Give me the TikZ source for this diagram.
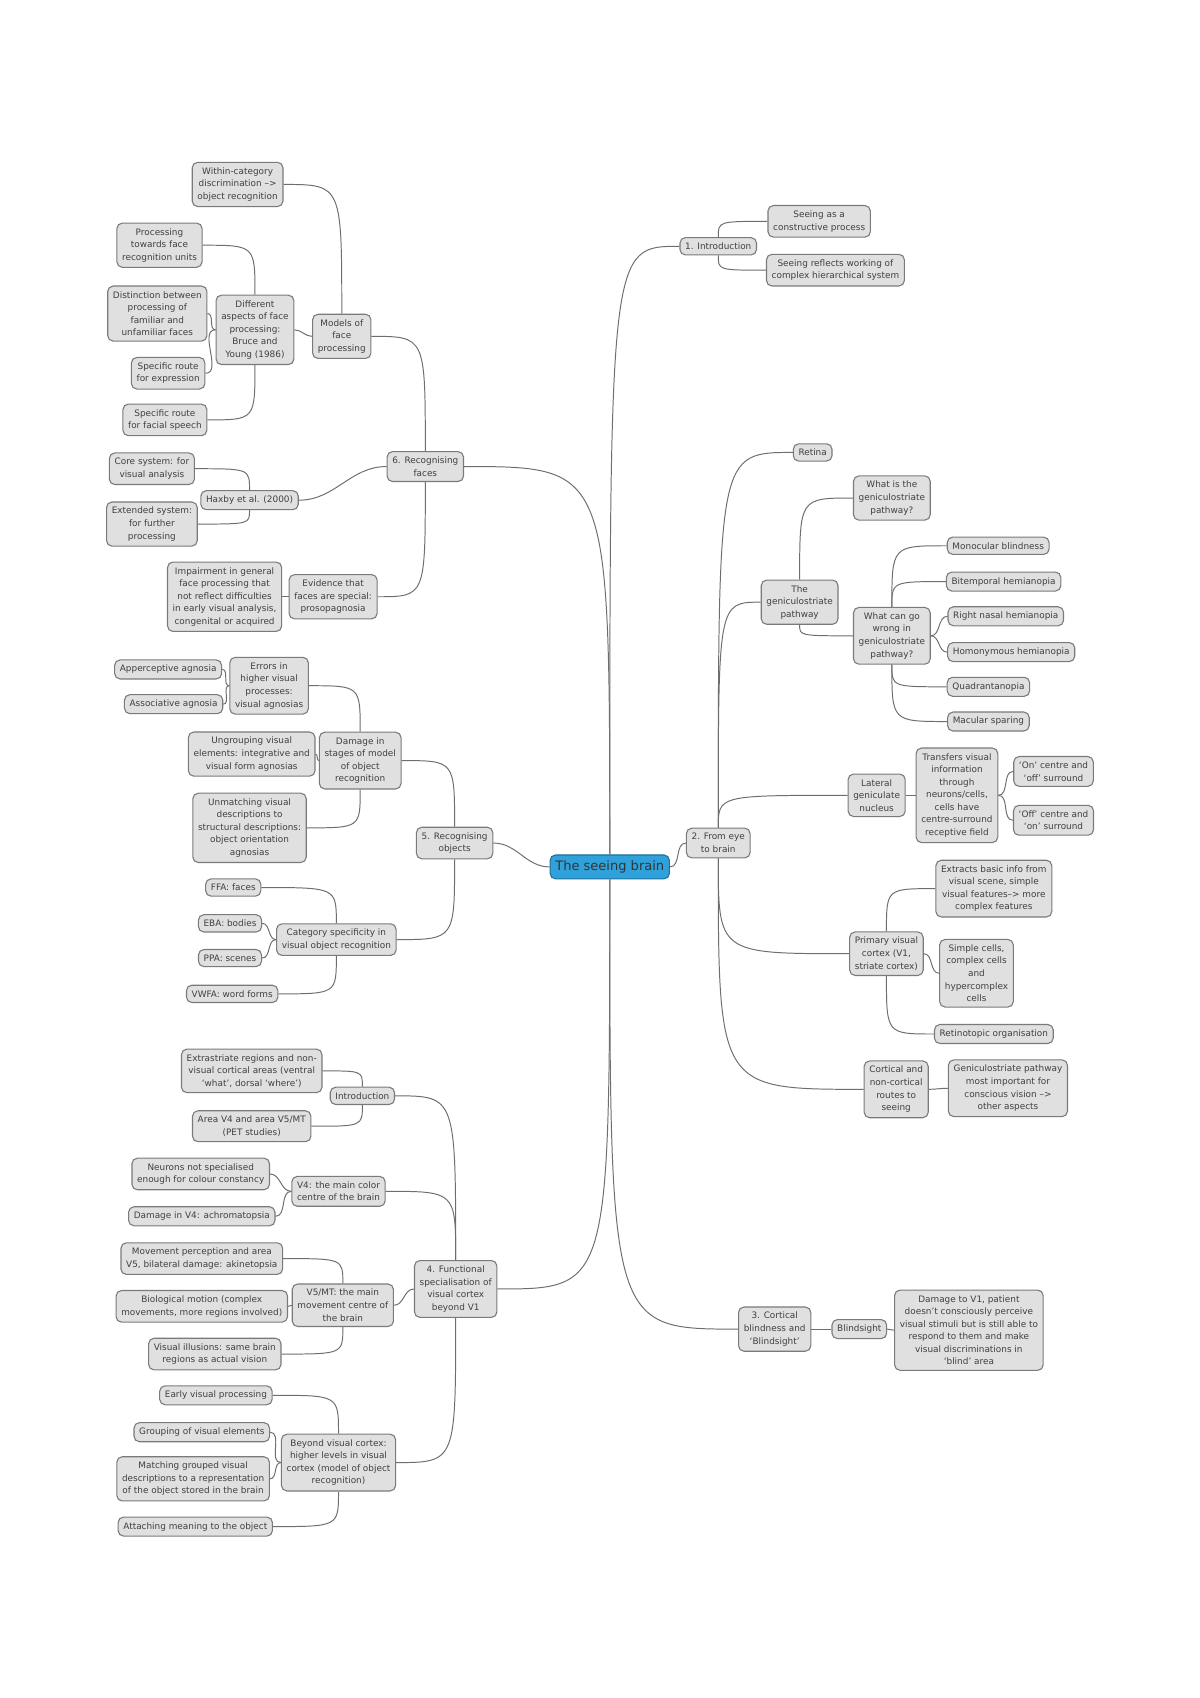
\documentclass[tikz,border=0pt]{standalone}
\usepackage{fontspec}
\setmainfont{DejaVu Sans}
\definecolor{bx}{HTML}{E0E0E0}
\definecolor{bd}{HTML}{7A7A7A}
\definecolor{ln}{HTML}{6E6E6E}
\definecolor{rt}{HTML}{2FA2DC}
\tikzset{
 bn/.style={draw=bd,fill=bx,rounded corners=2.5pt,line width=0.5pt,align=center,inner sep=2.4pt,text=black!75,font=\fontsize{4.1}{5.8}\selectfont},
 rootn/.style={bn,fill=rt,draw=rt!70!black,font=\fontsize{6}{8}\selectfont,text=black!80,minimum width=52pt,minimum height=11pt},
 lk/.style={draw=ln,line width=0.45pt}
}
\newcommand\mmL[2]{\draw[lk] (#1.west) to[out=180,in=0] (#2.east);}
\newcommand\mmUL[2]{\draw[lk] (#1.north) .. controls (#1.north |- #2.east) .. (#2.east);}
\newcommand\mmDL[2]{\draw[lk] (#1.south) .. controls (#1.south |- #2.east) .. (#2.east);}
\newcommand\mmR[2]{\draw[lk] (#1.east) to[out=0,in=180] (#2.west);}
\newcommand\mmUR[2]{\draw[lk] (#1.north) .. controls (#1.north |- #2.west) .. (#2.west);}
\newcommand\mmDR[2]{\draw[lk] (#1.south) .. controls (#1.south |- #2.west) .. (#2.west);}
\begin{document}
\begin{tikzpicture}[x=0.5pt,y=-0.5pt]
\useasboundingbox[fill=white] (0,0) rectangle (1106,1565);
\node[rootn] (root) at (562,799) {The seeing brain};
% right
\node[bn] (intro1) at (662,227) {1. Introduction};
\node[bn] (sa) at (755,204) {Seeing as a\\constructive process};
\node[bn] (sr) at (770,249) {Seeing reflects working of\\complex hierarchical system};
\node[bn] (eye2) at (662,777) {2. From eye\\to brain};
\node[bn] (retina) at (749,417) {Retina};
\node[bn] (gp) at (737,555) {The\\geniculostriate\\pathway};
\node[bn] (wh) at (822,459) {What is the\\geniculostriate\\pathway?};
\node[bn] (wc) at (822,586) {What can go\\wrong in\\geniculostriate\\pathway?};
\node[bn] (mono) at (920,503) {Monocular blindness};
\node[bn] (bit) at (925,536) {Bitemporal hemianopia};
\node[bn] (rn) at (927,568) {Right nasal hemianopia};
\node[bn] (hom) at (932,601) {Homonymous hemianopia};
\node[bn] (quad) at (911,633) {Quadrantanopia};
\node[bn] (mac) at (911,665) {Macular sparing};
\node[bn] (lgn) at (808,733) {Lateral\\geniculate\\nucleus};
\node[bn] (tr) at (882,733) {Transfers visual\\information\\through\\neurons/cells,\\cells have\\centre-surround\\receptive field};
\node[bn] (on) at (971,711) {`On' centre and\\`off' surround};
\node[bn] (off) at (971,756) {`Off' centre and\\`on' surround};
\node[bn] (pvc) at (817,879) {Primary visual\\cortex (V1,\\striate cortex)};
\node[bn] (ex) at (916,819) {Extracts basic info from\\visual scene, simple\\visual features--> more\\complex features};
\node[bn] (sc) at (900,897) {Simple cells,\\complex cells\\and\\hypercomplex\\cells};
\node[bn] (ret) at (916,953) {Retinotopic organisation};
\node[bn] (cr) at (826,1004) {Cortical and\\non-cortical\\routes to\\seeing};
\node[bn] (gm) at (929,1003) {Geniculostriate pathway\\most important for\\conscious vision --\textgreater\\other aspects};
\node[bn] (cb3) at (714,1225) {3. Cortical\\blindness and\\`Blindsight'};
\node[bn] (bs) at (792,1225) {Blindsight};
\node[bn] (dm) at (893,1226) {Damage to V1, patient\\doesn't consciously perceive\\visual stimuli but is still able to\\respond to them and make\\visual discriminations in\\`blind' area};
% left
\node[bn] (faces6) at (392,430) {6. Recognising\\faces};
\node[bn] (mf) at (315,310) {Models of\\face\\processing};
\node[bn] (wcat) at (219,170) {Within-category\\discrimination --\textgreater\\object recognition};
\node[bn] (da) at (235,304) {Different\\aspects of face\\processing:\\Bruce and\\Young (1986)};
\node[bn] (pt) at (147,226) {Processing\\towards face\\recognition units};
\node[bn] (dist) at (145,289) {Distinction between\\processing of\\familiar and\\unfamiliar faces};
\node[bn] (sre) at (155,344) {Specific route\\for expression};
\node[bn] (srf) at (152,387) {Specific route\\for facial speech};
\node[bn] (hx) at (230,461) {Haxby et al. (2000)};
\node[bn] (core) at (140,432) {Core system: for\\visual analysis};
\node[bn] (ext) at (140,483) {Extended system:\\for further\\processing};
\node[bn] (ev) at (307,550) {Evidence that\\faces are special:\\prosopagnosia};
\node[bn] (imp) at (207,550) {Impairment in general\\face processing that\\not reflect difficulties\\in early visual analysis,\\congenital or acquired};
\node[bn] (obj5) at (419,777) {5. Recognising\\objects};
\node[bn] (dmg) at (332,701) {Damage in\\stages of model\\of object\\recognition};
\node[bn] (err) at (248,632) {Errors in\\higher visual\\processes:\\visual agnosias};
\node[bn] (app) at (155,617) {Apperceptive agnosia};
\node[bn] (ass) at (160,649) {Associative agnosia};
\node[bn] (ung) at (232,695) {Ungrouping visual\\elements: integrative and\\visual form agnosias};
\node[bn] (unm) at (230,763) {Unmatching visual\\descriptions to\\structural descriptions:\\object orientation\\agnosias};
\node[bn] (cat) at (310,866) {Category specificity in\\visual object recognition};
\node[bn] (ffa) at (215,818) {FFA: faces};
\node[bn] (eba) at (212,851) {EBA: bodies};
\node[bn] (ppa) at (212,883) {PPA: scenes};
\node[bn] (vwfa) at (214,916) {VWFA: word forms};
\node[bn] (func4) at (420,1188) {4. Functional\\specialisation of\\visual cortex\\beyond V1};
\node[bn] (intro4) at (334,1010) {Introduction};
\node[bn] (extr) at (232,987) {Extrastriate regions and non-\\visual cortical areas (ventral\\`what', dorsal `where')};
\node[bn] (area) at (232,1038) {Area V4 and area V5/MT\\(PET studies)};
\node[bn] (v4) at (312,1098) {V4: the main color\\centre of the brain};
\node[bn] (neu) at (185,1082) {Neurons not specialised\\enough for colour constancy};
\node[bn] (dv4) at (186,1121) {Damage in V4: achromatopsia};
\node[bn] (v5) at (316,1203) {V5/MT: the main\\movement centre of\\the brain};
\node[bn] (mov) at (186,1160) {Movement perception and area\\V5, bilateral damage: akinetopsia};
\node[bn] (bio) at (186,1204) {Biological motion (complex\\movements, more regions involved)};
\node[bn] (vis) at (198,1248) {Visual illusions: same brain\\regions as actual vision};
\node[bn] (bey) at (312,1348) {Beyond visual cortex:\\higher levels in visual\\cortex (model of object\\recognition)};
\node[bn] (early) at (199,1286) {Early visual processing};
\node[bn] (grp) at (186,1320) {Grouping of visual elements};
\node[bn] (mat) at (178,1363) {Matching grouped visual\\descriptions to a representation\\of the object stored in the brain};
\node[bn] (att) at (180,1407) {Attaching meaning to the object};
% edges
\mmUR{root}{intro1}\mmR{root}{eye2}\mmDR{root}{cb3}
\mmUL{root}{faces6}\mmL{root}{obj5}\mmDL{root}{func4}
\mmUR{intro1}{sa}\mmDR{intro1}{sr}
\mmUR{eye2}{retina}\mmUR{eye2}{gp}\mmUR{eye2}{lgn}\mmDR{eye2}{pvc}\mmDR{eye2}{cr}
\mmUR{gp}{wh}\mmDR{gp}{wc}
\mmUR{wc}{mono}\mmUR{wc}{bit}\mmR{wc}{rn}\mmR{wc}{hom}\mmDR{wc}{quad}\mmDR{wc}{mac}
\mmR{lgn}{tr}\mmR{tr}{on}\mmR{tr}{off}
\mmUR{pvc}{ex}\mmR{pvc}{sc}\mmDR{pvc}{ret}
\mmR{cr}{gm}
\mmR{cb3}{bs}\mmR{bs}{dm}
\mmUL{faces6}{mf}\mmL{faces6}{hx}\mmDL{faces6}{ev}
\mmUL{mf}{wcat}\mmL{mf}{da}
\mmUL{da}{pt}\mmL{da}{dist}\mmL{da}{sre}\mmDL{da}{srf}
\mmUL{hx}{core}\mmDL{hx}{ext}
\mmL{ev}{imp}
\mmUL{obj5}{dmg}\mmDL{obj5}{cat}
\mmUL{dmg}{err}\mmL{dmg}{ung}\mmDL{dmg}{unm}
\mmL{err}{app}\mmL{err}{ass}
\mmUL{cat}{ffa}\mmL{cat}{eba}\mmL{cat}{ppa}\mmDL{cat}{vwfa}
\mmUL{func4}{intro4}\mmUL{func4}{v4}\mmL{func4}{v5}\mmDL{func4}{bey}
\mmUL{intro4}{extr}\mmDL{intro4}{area}
\mmL{v4}{neu}\mmL{v4}{dv4}
\mmUL{v5}{mov}\mmL{v5}{bio}\mmDL{v5}{vis}
\mmUL{bey}{early}\mmL{bey}{grp}\mmL{bey}{mat}\mmDL{bey}{att}
\end{tikzpicture}
\end{document}
